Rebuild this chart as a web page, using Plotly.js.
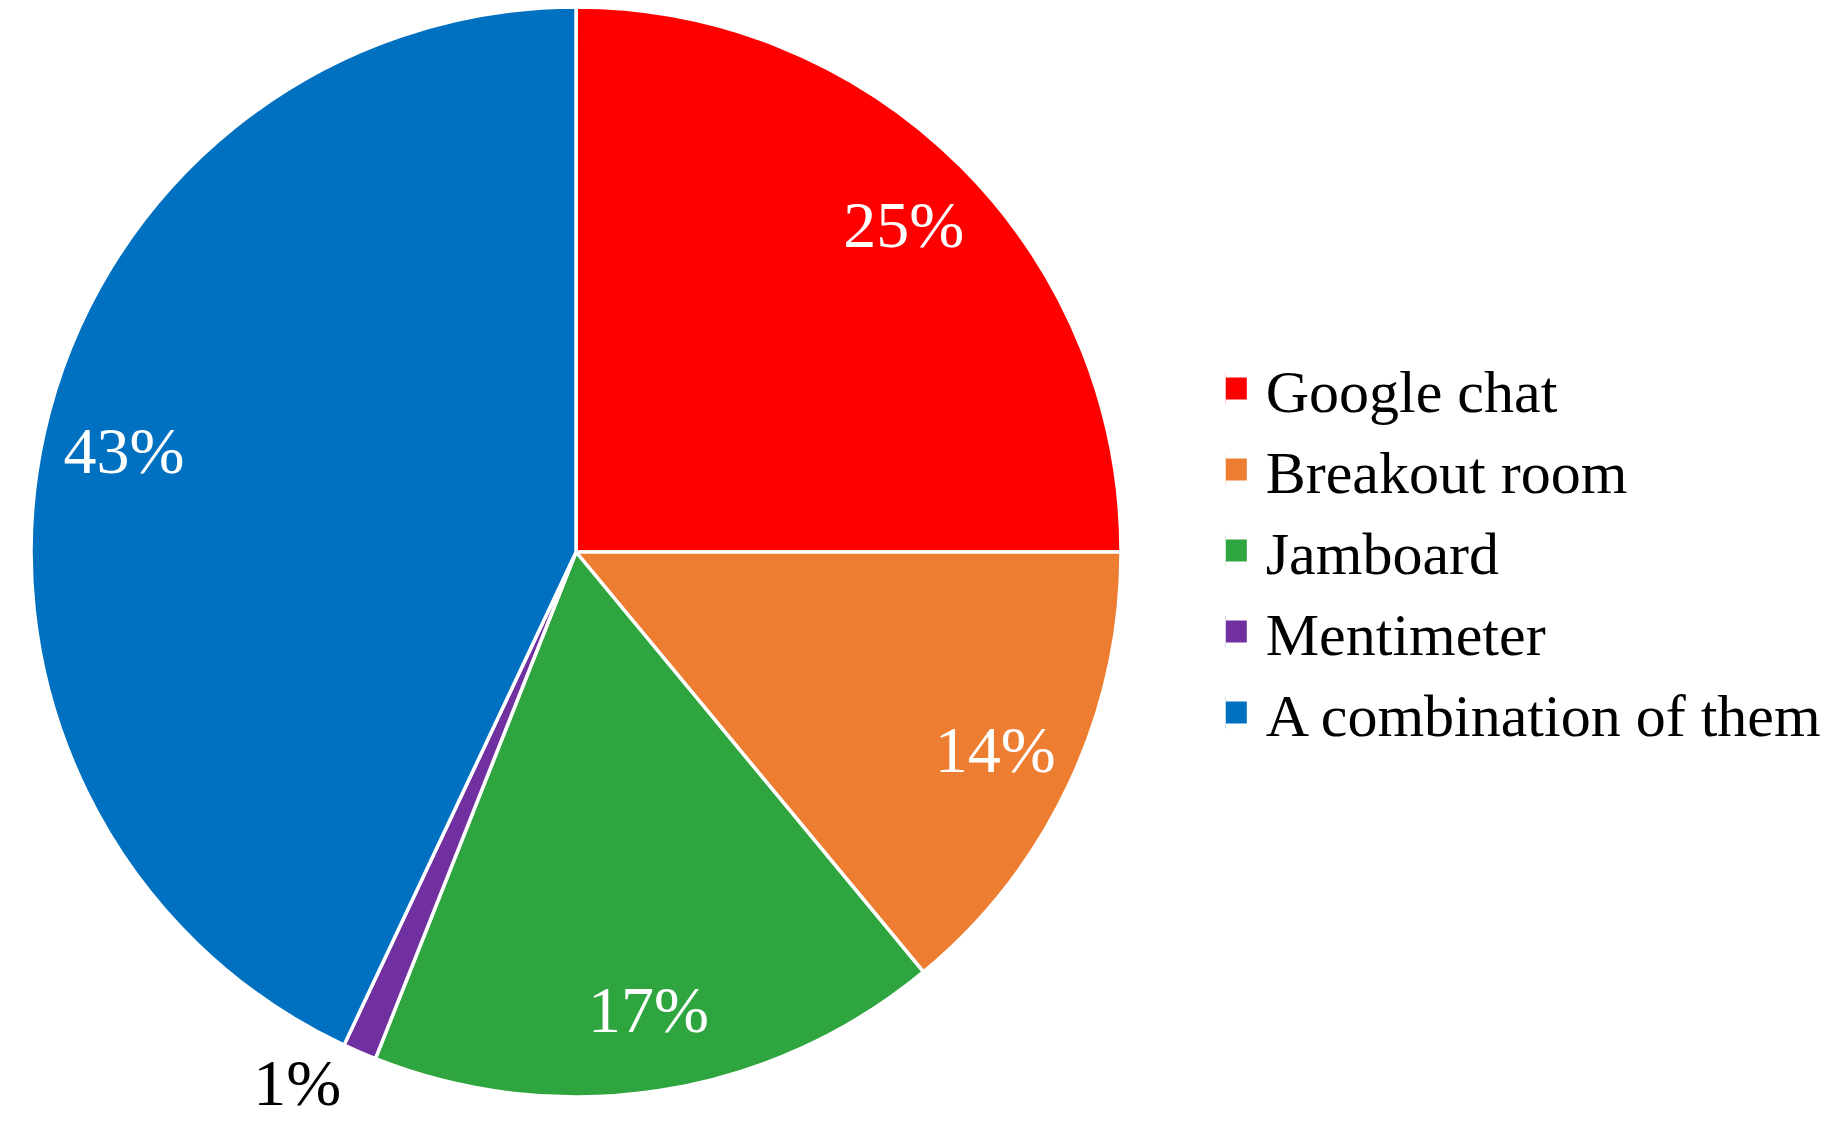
<!DOCTYPE html>
<html>
<head>
<meta charset="utf-8">
<script src="https://cdn.plot.ly/plotly-3.0.1.min.js"></script>
<style>
  html, body { margin: 0; padding: 0; background: #fff; }
  #myDiv { width: 1846px; height: 1147px; }
</style>
</head>
<body>
<div id="myDiv"></div>
<script>
var labels = ['Google chat', 'Breakout room', 'Jamboard', 'Mentimeter', 'A combination of them'];
var shares = [25, 14, 17, 1, 43];
var colors = ['#FF0000', '#ED7D31', '#2EA53F', '#7030A0', '#0070C0'];
var labelPos = ['inside', 'inside', 'inside', 'outside', 'inside'];
var labelColors = ['#FFFFFF', '#FFFFFF', '#FFFFFF', '#000000', '#FFFFFF'];

var data = [{
  type: 'pie',
  labels: labels,
  values: shares,
  sort: false,
  direction: 'clockwise',
  rotation: 0,
  textinfo: 'percent',
  textposition: labelPos,
  insidetextorientation: 'horizontal',
  textfont: {family: 'Liberation Serif, serif', size: 66, color: labelColors},
  marker: {colors: colors, line: {color: '#FFFFFF', width: 3.5}},
  domain: {x: [0.0168, 0.6073], y: [0.0436, 0.9939]},
  hoverinfo: 'label+percent'
}];

var layout = {
  width: 1846,
  height: 1147,
  margin: {l: 0, r: 0, t: 0, b: 0},
  paper_bgcolor: '#FFFFFF',
  showlegend: true,
  legend: {
    x: 0.664,
    y: 0.52,
    xanchor: 'left',
    yanchor: 'middle',
    font: {family: 'Liberation Serif, serif', size: 60, color: '#000000'}
  }
};

var gd = document.getElementById('myDiv');
Plotly.newPlot(gd, data, layout, {displayModeBar: false}).then(function () {
  // push the inside labels out along each slice's mid-line, as in the original
  var cd0 = gd.calcdata[0][0];
  var cx = cd0.cx, cy = cd0.cy, R = cd0.r;
  var box = gd.getBoundingClientRect();
  gd.querySelectorAll('.pielayer g.slice').forEach(function (sl, i) {
    if (labelPos[i] !== 'inside') return;
    var g = sl.querySelector('g.slicetext');
    var t = g && g.querySelector('text');
    if (!t) return;
    var rc = t.getBoundingClientRect();
    var mx = rc.left + rc.width / 2 - box.left - cx;
    var my = rc.top + rc.height / 2 - box.top - cy;
    var d = Math.sqrt(mx * mx + my * my) || 1;
    var k = 0.85 * R / d;
    g.setAttribute('transform', 'translate(' + (mx * (k - 1)) + ',' + (my * (k - 1)) + ')');
  });
  // bigger legend swatches, a little further from the text
  gd.querySelectorAll('.legend .legendpoints path').forEach(function (p) {
    var tr = p.getAttribute('transform') || '';
    p.setAttribute('transform', tr + ' translate(-10,0) scale(2.6)');
  });
});
</script>
</body>
</html>
